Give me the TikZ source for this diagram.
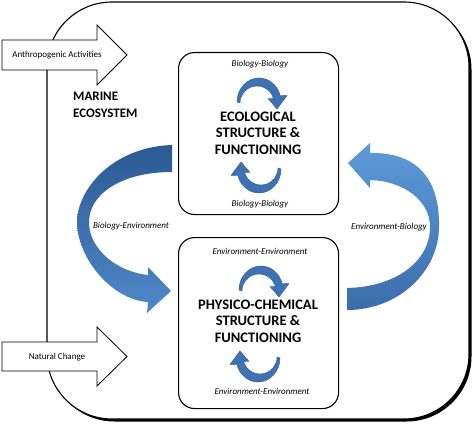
\documentclass[tikz,border=0pt]{standalone}
\usepackage{fontspec}
\setmainfont{Carlito}
\definecolor{circblue}{HTML}{3F72B3}
\definecolor{circedge}{HTML}{2C5890}
\definecolor{ldark}{HTML}{2B5A93}
\definecolor{llight}{HTML}{5088C8}
\definecolor{rlight}{HTML}{5E9BD8}
\definecolor{rdark}{HTML}{3A6DAC}
\begin{document}
\begin{tikzpicture}[x=1pt,y=-1pt,
  innerbox/.style={draw=black, line width=1.1pt, rounded corners=16, fill=white},
  blockarrow/.style={draw=black, line width=0.8pt, fill=white},
  smalllbl/.style={font=\fontsize{9}{10}\selectfont\itshape, inner sep=0pt},
  titlelbl/.style={font=\fontsize{14.5}{16.5}\selectfont\bfseries, align=center, inner sep=0pt},
  arrowlbl/.style={font=\fontsize{9}{10}\selectfont, inner sep=0pt},
  circarrow/.pic={
    \fill[circblue, draw=circedge, line width=0.4pt]
      (-22,0) arc[start angle=180, end angle=345, x radius=22, y radius=24]
      -- (28,-6.5) -- (18,7) -- (9,-3.5) -- (14.42,-3.4)
      arc[start angle=345, end angle=180, x radius=17, y radius=17] -- cycle;
  }]
\useasboundingbox (0,0) rectangle (474,425);
% outer box with shadow
\fill[black, rounded corners=65] (49.5,4.5) rectangle (471.5,421.5);
\draw[fill=white, line width=1.1pt, rounded corners=65] (47,2) rectangle (469,419);

% inner boxes
\node[innerbox, minimum width=160, minimum height=162, anchor=north west] (eco) at (178,52) {};
\node[innerbox, minimum width=160, minimum height=171, anchor=north west] (phys) at (178,237) {};

% block arrows
\draw[blockarrow] (2,40) -- (97,40) -- (97,25) -- (127,55) -- (97,85) -- (97,70) -- (2,70) -- cycle;
\node[arrowlbl] (anthro) at (57,55) {Anthropogenic Activities};
\draw[blockarrow] (2,342) -- (97,342) -- (97,327) -- (127,356.5) -- (97,386) -- (97,371) -- (2,371) -- cycle;
\node[arrowlbl] (natural) at (57,357) {Natural Change};

% marine ecosystem
\node[font=\fontsize{13}{17}\selectfont\bfseries, align=left, anchor=north west, inner sep=0pt] (marine) at (73,92) {MARINE\\ECOSYSTEM};

% big left arrow (Biology-Environment)
\shade[top color=ldark, bottom color=llight]
  (172,145) .. controls (112,147) and (77,190) .. (77,222)
  .. controls (77,258) and (112,300) .. (148,302)
  -- (147,313) -- (171,291) -- (148,267) -- (148,275)
  .. controls (118,272) and (89,250) .. (89,222)
  .. controls (89,195) and (120,172) .. (172,172) -- cycle;
\node[smalllbl] (bioenv) at (131,226) {Biology-Environment};

% big right arrow (Environment-Biology)
\shade[top color=rlight, bottom color=rdark]
  (347,310) .. controls (400,310) and (439,270) .. (439,227)
  .. controls (440,180) and (418,152) .. (370,153)
  -- (370,143) -- (348,163) -- (370,188) -- (370,180)
  .. controls (403,181) and (430,200) .. (430,227)
  .. controls (430,262) and (395,287) .. (347,288) -- cycle;
\node[smalllbl] (envbio) at (389,227) {Environment-Biology};

% ecological box contents
\node[smalllbl] (bbtop) at (260,64) {Biology-Biology};
\pic at (259,102) {circarrow};
\node[titlelbl] (ecotitle) at (258,133) {ECOLOGICAL\\STRUCTURE \&\\FUNCTIONING};
\pic[rotate=180] at (259,169) {circarrow};
\node[smalllbl] (bbbot) at (260,204) {Biology-Biology};

% physico box contents
\node[smalllbl] (eetop) at (260,251) {Environment-Environment};
\pic at (261,290) {circarrow};
\node[titlelbl] (phystitle) at (258,321) {PHYSICO-CHEMICAL\\STRUCTURE \&\\FUNCTIONING};
\pic[rotate=180] at (258,358) {circarrow};
\node[smalllbl] (eebot) at (262,391) {Environment-Environment};
\end{tikzpicture}
\end{document}
